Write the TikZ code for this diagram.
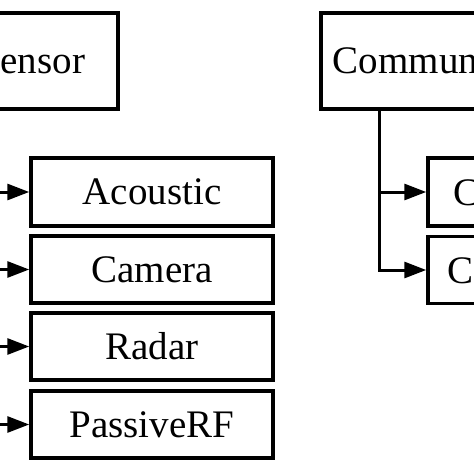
\documentclass[tikz,border=0pt]{standalone}
\usepackage{fontspec}
\setmainfont{Liberation Serif}
\usetikzlibrary{arrows.meta}
\tikzset{
  box/.style={draw, line width=3.5pt, inner sep=0pt, font=\fontsize{39}{46}\selectfont},
  conn/.style={line width=3pt, -{Triangle[length=22pt,width=16pt]}},
}
\begin{document}
\begin{tikzpicture}[x=1pt,y=-1pt]
\useasboundingbox (0,0) rectangle (474,474);
\clip (0,0) rectangle (474,474);
\fill[white] (0,0) rectangle (474,474);
% top level
\node[box, minimum width=172pt, minimum height=96pt] (sensor) at (32,61) {Sensor};
\node[box, minimum width=275pt, minimum height=96pt] (comm) at (458.5,61) {Communication};
% sensor children
\node[box, minimum width=242pt, minimum height=68pt] (acoustic) at (152,192) {Acoustic};
\node[box, minimum width=242pt, minimum height=67pt] (camera) at (152,269.5) {Camera};
\node[box, minimum width=242pt, minimum height=67pt] (radar) at (152,346.5) {Radar};
\node[box, minimum width=242pt, minimum height=67pt] (passive) at (152,424.5) {PassiveRF};
% communication children
\node[box, minimum height=68pt, inner xsep=25pt, text width=192pt, align=left] (cellular) at (549,192) {Cellular};
\node[box, minimum height=67pt, inner xsep=19pt, text width=204pt, align=left] (control) at (549,270) {Control};
% trunks
\coordinate (strunk) at (-10,0);
\coordinate (ctrunk) at (379,0);
\draw[conn] (strunk |- sensor.south) |- (acoustic.west);
\draw[conn] (strunk |- sensor.south) |- (camera.west);
\draw[conn] (strunk |- sensor.south) |- (radar.west);
\draw[conn] (strunk |- sensor.south) |- (passive.west);
\draw[conn] (ctrunk |- comm.south) |- (cellular.west);
\draw[conn] (ctrunk |- comm.south) |- (control.west);
\end{tikzpicture}
\end{document}
